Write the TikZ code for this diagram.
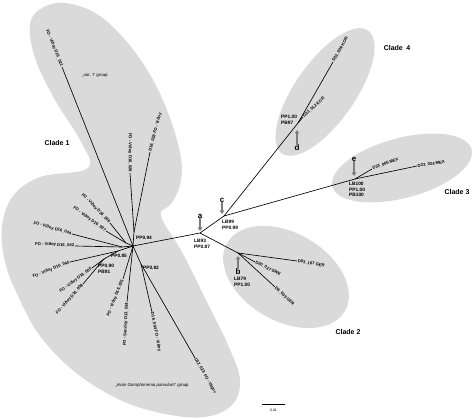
\documentclass[tikz,border=0pt]{standalone}
\usepackage{fontspec}
\setmainfont{Liberation Sans}
\usetikzlibrary{arrows.meta}
\definecolor{cladegray}{RGB}{218,218,218}
\definecolor{arrgray}{RGB}{125,125,125}
\begin{document}
\begin{tikzpicture}[x=1pt,y=-1pt,
  leaf/.style={font=\bfseries\fontsize{4.2}{5}\selectfont, inner sep=0.6pt},
  supp/.style={font=\bfseries\fontsize{4.8}{5.6}\selectfont, inner sep=0pt, align=left},
  cladelbl/.style={font=\bfseries\fontsize{7}{8}\selectfont, inner sep=0pt},
  letter/.style={font=\bfseries\fontsize{8}{9}\selectfont, inner sep=0pt},
  grouplbl/.style={font=\fontsize{4.4}{5}\selectfont, inner sep=0pt},
  br/.style={line width=0.65pt},
  markarr/.style={draw=arrgray, line width=1.4pt, -{Triangle[width=4.5pt,length=3.5pt]}},
]
\useasboundingbox (0,0) rectangle (474,419);

% clade areas
\fill[cladegray] plot[smooth cycle, tension=0.6] coordinates {
  (65,3) (97,14) (127,42) (152,78) (170,118) (181,158) (180,185) (171,204) (161,216)
  (182,252) (205,298) (228,345) (240,380) (232,405) (205,417) (165,414) (120,400)
  (75,372) (40,336) (18,296) (5,262) (2,226) (13,196) (40,177) (88,168)
  (80,140) (55,100) (35,58) (30,24) (42,8)};
\begin{scope}[shift={(286,277)}, rotate=-30]
  \fill[cladegray] (0,0) ellipse (68 and 44);
\end{scope}
\begin{scope}[shift={(402,168)}, rotate=15]
  \fill[cladegray] (0,0) ellipse (72 and 30);
\end{scope}
\begin{scope}[shift={(325,92)}, rotate=55]
  \fill[cladegray] (0,0) ellipse (75 and 30);
\end{scope}

% internal nodes
\coordinate (H) at (133,246);
\coordinate (Nup) at (134,232);
\coordinate (N36) at (126,243);
\coordinate (N42) at (122,247);
\coordinate (N85) at (118,251);
\coordinate (N90) at (104,259);
\coordinate (N82) at (141,264);
\coordinate (A) at (200,233);
\coordinate (C) at (224,216);
\coordinate (D) at (298,123);
\coordinate (E) at (355,179);
\coordinate (B) at (238,253);

% leaves, clade 1
\node[leaf, anchor=east, rotate=-68] (L21) at (62,67) {FO - Viðoy D16\_021};
\node[leaf, anchor=east, rotate=-90] (L28a) at (130,173) {FO - Viðoy D16\_028};
\node[leaf, anchor=west, rotate=75] (L28b) at (150,152) {D16\_028 FO - Viðoy};
\node[leaf, anchor=east, rotate=-46] (L36) at (110,223) {FO - Viðoy D16\_036};
\node[leaf, anchor=east, rotate=-36] (L37) at (106,231) {FO - Viðoy D16\_037};
\node[leaf, anchor=east, rotate=-16] (L44) at (72,234) {FO - Viðoy D16\_044};
\node[leaf, anchor=east, rotate=-3] (L42) at (75,246) {FO - Viðoy D16\_042};
\node[leaf, anchor=east, rotate=22] (L45) at (70,262) {FO - Viðoy D16\_045};
\node[leaf, anchor=east, rotate=37] (L05) at (92,268) {FO - Viðoy D16\_005};
\node[leaf, anchor=east, rotate=49] (L08) at (83,284) {FO - Viðoy D16\_008};
\node[leaf, anchor=east, rotate=68] (L01) at (123,279) {FO - Viðoy D16\_001};
\node[leaf, anchor=east, rotate=87] (L34) at (127,302) {FO - Sandoy D13\_034};
\node[leaf, anchor=west, rotate=-79] (L04) at (152,312) {D16\_004 FO - Viðoy};
\node[leaf, anchor=west, rotate=-60] (L23) at (195,358) {D12\_023 FO - Vágur};
% clade 2
\node[leaf, anchor=west, rotate=-10] (G167) at (297,261) {D03\_167 GER};
\node[leaf, anchor=west, rotate=-27] (S027) at (255,262) {D20\_027 SWE};
\node[leaf, anchor=west, rotate=-44] (G003) at (275,287) {D6\_003 GER};
% clade 3
\node[leaf, anchor=west, rotate=21] (M006) at (372,169) {D33\_006 MEX};
\node[leaf, anchor=west, rotate=8] (M024) at (417,166) {D33\_024 MEX};
% clade 4
\node[leaf, anchor=west, rotate=42] (K012) at (303,117) {D33\_012 KOR};
\node[leaf, anchor=west, rotate=60] (K009) at (333,62) {D33\_009 KOR};

% branches
\draw[br] (H) -- (A) -- (C) -- (D);
\draw[br] (C) -- (E);
\draw[br] (A) -- (B);
\draw[br] (D) -- (K012.west);
\draw[br] (D) -- (K009.west);
\draw[br] (E) -- (M006.west);
\draw[br] (E) -- (M024.west);
\draw[br] (B) -- (G167.west);
\draw[br] (B) -- (S027.west);
\draw[br] (B) -- (G003.west);
\draw[br] (H) -- (L21.east);
\draw[br] (H) -- (Nup);
\draw[br] (Nup) -- (L28a.east);
\draw[br] (Nup) -- (L28b.west);
\draw[br] (H) -- (N36);
\draw[br] (N36) -- (L36.east);
\draw[br] (N36) -- (L37.east);
\draw[br] (H) -- (N42);
\draw[br] (N42) -- (L44.east);
\draw[br] (N42) -- (L42.east);
\draw[br] (H) -- (N85);
\draw[br] (N85) -- (L45.east);
\draw[br] (N85) -- (N90);
\draw[br] (N90) -- (L05.east);
\draw[br] (N90) -- (L08.east);
\draw[br] (H) -- (L01.east);
\draw[br] (H) -- (L34.east);
\draw[br] (H) -- (N82);
\draw[br] (N82) -- (L04.west);
\draw[br] (N82) -- (L23.west);

% support values
\node[supp] (s94) at (144,238) {PP0.94};
\node[supp] (s85) at (119,256) {PP0.85};
\node[supp, anchor=north west] (s90) at (98,264) {PP0.90\\PB91};
\node[supp] (s82) at (151,268) {PP0.82};
\node[supp, anchor=north west] (s93) at (194,239) {LB93\\PP0.87};
\node[supp, anchor=north west] (s99) at (222,220) {LB99\\PP0.99};
\node[supp, anchor=north west] (s79) at (234,277) {LB79\\PP1.00};
\node[supp, anchor=north west] (s97) at (281,115) {PP1.00\\PB97};
\node[supp, anchor=north west] (s100) at (349,182) {LB100\\PP1.00\\PB100};

% marker letters and arrows
\node[letter] (la) at (200,216) {a};
\coordinate (aT) at (200,231);
\draw[markarr] (la.south) -- (aT);
\node[letter] (lc) at (222,200) {c};
\coordinate (cT) at (222,214);
\draw[markarr] (lc.south) -- (cT);
\node[letter] (lb) at (238,272) {b};
\coordinate (bT) at (238,256);
\draw[markarr] (lb.north) -- (bT);
\node[letter] (ld) at (297,148) {d};
\coordinate (dT) at (297,130);
\draw[markarr] (ld.north) -- (dT);
\node[letter] (le) at (354,159) {e};
\coordinate (eT) at (354,176);
\draw[markarr] (le.south) -- (eT);

% clade labels
\node[cladelbl] (c1) at (57,143) {Clade 1};
\node[cladelbl] (c2) at (348,332) {Clade 2};
\node[cladelbl] (c3) at (457,192) {Clade 3};
\node[cladelbl] (c4) at (397,48) {Clade\enspace 4};

% group labels
\node[grouplbl] (g1) at (95,75) {„var. I“ group};
\node[grouplbl] (g2) at (152,385) {„main \textit{Gomphonema parvulum}“ group};

% scale bar
\coordinate (sb1) at (262,404);
\coordinate (sb2) at (285,404);
\draw[line width=0.6pt] (sb1) -- (sb2);
\node[font=\fontsize{3.5}{4}\selectfont, inner sep=0pt] (sbl) at (273.5,410) {0.01};
\end{tikzpicture}
\end{document}
